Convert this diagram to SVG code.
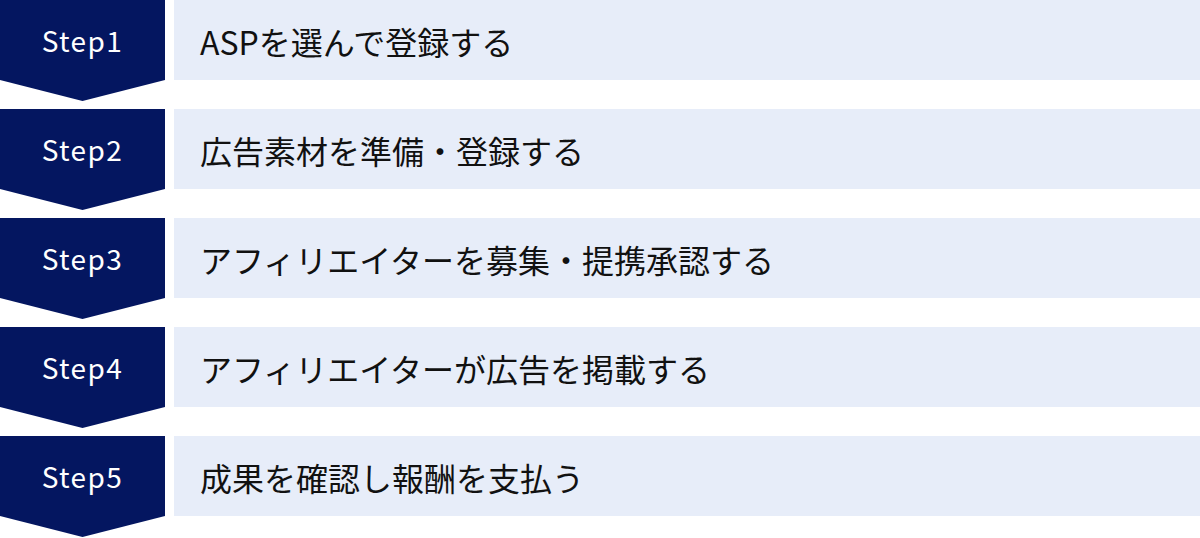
<svg xmlns="http://www.w3.org/2000/svg" width="1200" height="538" viewBox="0 0 1200 538">
<style>
.chev{fill:#041660}
.bar{fill:#E7EDF9}
.step{font-family:"Noto Sans CJK JP","Noto Sans",sans-serif;font-size:28px;fill:#ffffff;text-anchor:middle;letter-spacing:1.4px}
.label{font-family:"Noto Sans CJK JP","Noto Sans",sans-serif;font-size:32px;fill:#111111}
</style>
<rect width="1200" height="538" fill="#ffffff"/>
<g id="step1">
<polygon class="chev" points="0,0 165,0 165,80 82.5,101 0,80"/>
<rect class="bar" x="174" y="0" width="1026" height="80"/>
<text class="step" x="82.5" y="52">Step1</text>
<text class="label" x="200" y="55">ASPを選んで登録する</text>
</g>
<g id="step2">
<polygon class="chev" points="0,109 165,109 165,189 82.5,210 0,189"/>
<rect class="bar" x="174" y="109" width="1026" height="80"/>
<text class="step" x="82.5" y="161">Step2</text>
<text class="label" x="200" y="164">広告素材を準備・登録する</text>
</g>
<g id="step3">
<polygon class="chev" points="0,218 165,218 165,298 82.5,319 0,298"/>
<rect class="bar" x="174" y="218" width="1026" height="80"/>
<text class="step" x="82.5" y="270">Step3</text>
<text class="label" x="200" y="273">アフィリエイターを募集・提携承認する</text>
</g>
<g id="step4">
<polygon class="chev" points="0,327 165,327 165,407 82.5,428 0,407"/>
<rect class="bar" x="174" y="327" width="1026" height="80"/>
<text class="step" x="82.5" y="379">Step4</text>
<text class="label" x="200" y="382">アフィリエイターが広告を掲載する</text>
</g>
<g id="step5">
<polygon class="chev" points="0,436 165,436 165,516 82.5,537 0,516"/>
<rect class="bar" x="174" y="436" width="1026" height="80"/>
<text class="step" x="82.5" y="488">Step5</text>
<text class="label" x="200" y="491">成果を確認し報酬を支払う</text>
</g>
<g id="connectors"></g>
</svg>
